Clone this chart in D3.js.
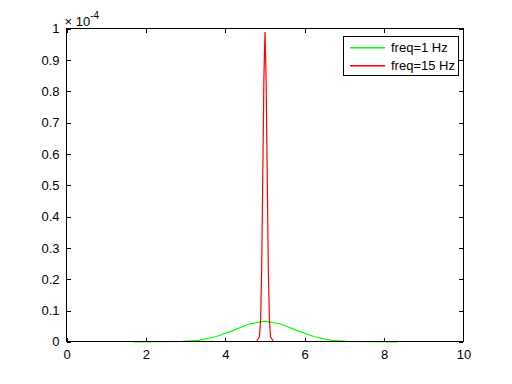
<!DOCTYPE html>
<html><head><meta charset="utf-8">
<script src="https://cdn.jsdelivr.net/npm/d3@7"></script>
<style>
body{margin:0;background:#fff;}
text{font-family:"Liberation Sans",Arial,sans-serif;}
</style></head>
<body>
<script>
// data (y values in units of 1e-4)
const xTicks = [0, 2, 4, 6, 8, 10];
const yTicks = [0, 0.1, 0.2, 0.3, 0.4, 0.5, 0.6, 0.7, 0.8, 0.9, 1];
const seriesNames = ["freq=1 Hz", "freq=15 Hz"];
const seriesColors = ["#00ff00", "#ff0000"];
const greenX = [1.67, 2.92, 3.33, 3.75, 4.17, 4.58, 5.0, 5.42, 5.83, 6.25, 6.67, 7.08, 8.33];
const greenY = [0, 0.0013, 0.0047, 0.016, 0.035, 0.056, 0.066, 0.056, 0.035, 0.016, 0.0047, 0.0013, 0];
const redX = [4.78, 4.861, 4.889, 4.917, 4.944, 4.972, 5.0, 5.028, 5.056, 5.083, 5.111, 5.139, 5.22];
const redY = [0, 0.016, 0.07, 0.24, 0.53, 0.84, 0.99, 0.84, 0.53, 0.24, 0.07, 0.016, 0];

const W = 512, H = 384;
const m = {left: 66.6, right: 463.4, top: 28.8, bottom: 341.8};
const svg = d3.select("body").append("svg").attr("width", W).attr("height", H);
svg.append("rect").attr("width", W).attr("height", H).attr("fill", "#fff");

const x = d3.scaleLinear().domain([0, 10]).range([m.left, m.right]);
const y = d3.scaleLinear().domain([0, 1]).range([m.bottom, m.top]);

const series = [
  {name: seriesNames[0], color: seriesColors[0], pts: greenX.map((v, i) => [v, greenY[i]])},
  {name: seriesNames[1], color: seriesColors[1], pts: redX.map((v, i) => [v, redY[i]])}
];

const line = d3.line().x(d => x(d[0])).y(d => y(d[1]));
series.forEach(s => {
  svg.append("path").attr("d", line(s.pts)).attr("fill", "none")
    .attr("stroke", s.color).attr("stroke-width", 1.2);
});

const tl = 4;
function styleAxis(g) {
  g.selectAll("path").remove();
  g.selectAll("line").attr("stroke", "#000").attr("shape-rendering", "crispEdges");
  g.selectAll("text").attr("font-size", 13).attr("fill", "#000");
}
svg.append("g").attr("transform", `translate(0,${m.bottom})`)
  .call(d3.axisBottom(x).tickValues(xTicks).tickSizeInner(-tl).tickSizeOuter(0).tickPadding(8).tickFormat(d3.format("d")))
  .call(styleAxis);
svg.append("g").attr("transform", `translate(0,${m.top})`)
  .call(d3.axisTop(x).tickValues(xTicks).tickSizeInner(-tl).tickSizeOuter(0).tickFormat(""))
  .call(styleAxis);
svg.append("g").attr("transform", `translate(${m.left},0)`)
  .call(d3.axisLeft(y).tickValues(yTicks).tickSizeInner(-tl).tickSizeOuter(0).tickPadding(7).tickFormat(d => d3.format("")(+d.toFixed(1))))
  .call(styleAxis);
svg.append("g").attr("transform", `translate(${m.right},0)`)
  .call(d3.axisRight(y).tickValues(yTicks).tickSizeInner(-tl).tickSizeOuter(0).tickFormat(""))
  .call(styleAxis);

svg.append("rect").attr("x", m.left).attr("y", m.top)
  .attr("width", m.right - m.left).attr("height", m.bottom - m.top)
  .attr("fill", "none").attr("stroke", "#000").attr("shape-rendering", "crispEdges");

// exponent label
const ex = svg.append("text").attr("x", m.left - 2).attr("y", 26).attr("font-size", 13).attr("fill", "#000");
ex.append("tspan").text("\u00d7 10");
ex.append("tspan").attr("dy", -7).attr("font-size", 10).text("-4");

// legend
const lg = svg.append("g");
lg.append("rect").attr("x", 343.5).attr("y", 36.5).attr("width", 115).attr("height", 39)
  .attr("fill", "#fff").attr("stroke", "#000").attr("shape-rendering", "crispEdges");
series.forEach((s, i) => {
  const yy = 47 + i * 18;
  lg.append("rect").attr("x", 350).attr("y", yy).attr("width", 35).attr("height", 1.5)
    .attr("fill", s.color).attr("stroke", "none");
  lg.append("text").attr("x", 391).attr("y", yy + 5).attr("font-size", 13).attr("fill", "#000").text(s.name);
});
</script>
</body></html>
